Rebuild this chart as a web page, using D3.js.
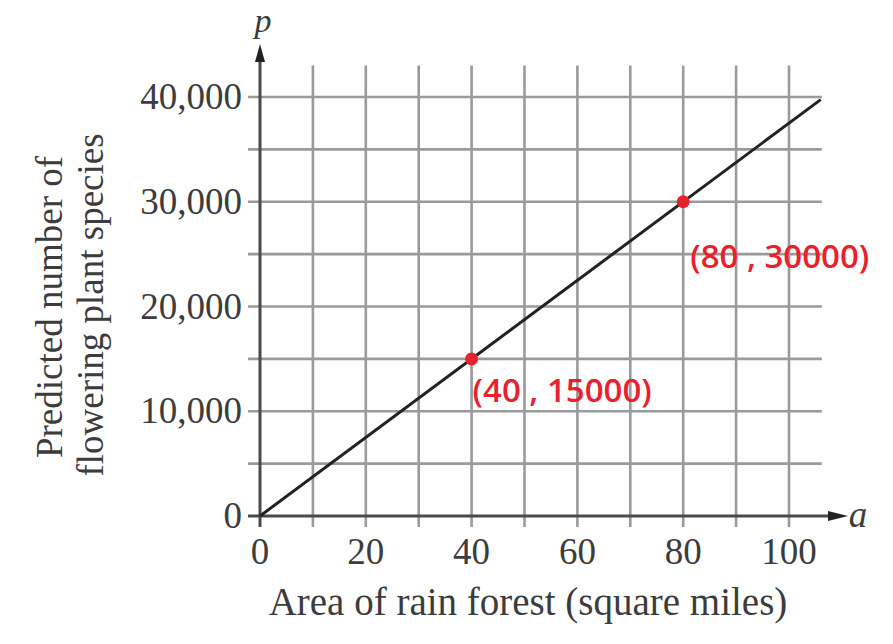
<!DOCTYPE html>
<html><head><meta charset="utf-8">
<script src="https://cdn.jsdelivr.net/npm/d3@7/dist/d3.min.js"></script>
<style>body{margin:0;background:#fff}svg{display:block}</style>
</head><body>
<script>
const xTicks = [0, 20, 40, 60, 80, 100];
const xGrid = [10, 20, 30, 40, 50, 60, 70, 80, 90, 100];
const yTicks = [0, 10000, 20000, 30000, 40000];
const yGrid = [5000, 10000, 15000, 20000, 25000, 30000, 35000, 40000];
const lineA = [0, 106];
const slope = 375; // p = 375a
const points = [[40, 15000], [80, 30000]];
const pointLabels = ["(40 , 15000)", "(80 , 30000)"];

const W = 893, H = 644;
const svg = d3.select("body").append("svg").attr("width", W).attr("height", H);
const x = d3.scaleLinear().domain([0, 100]).range([260, 789]);
const y = d3.scaleLinear().domain([0, 40000]).range([516, 97]);
const xMax = 106.2, yTop = 43000;
const txt = "#3c3c3c";

const grid = svg.append("g").attr("stroke", "#9a9a9a").attr("stroke-width", 2.6);
grid.selectAll("line.v").data(xGrid).join("line")
  .attr("x1", d => x(d)).attr("x2", d => x(d))
  .attr("y1", y(yTop)).attr("y2", y(0) + 11);
grid.selectAll("line.h").data(yGrid).join("line")
  .attr("y1", d => y(d)).attr("y2", d => y(d))
  .attr("x1", x(0) - 12).attr("x2", x(xMax));

// axes
const ax = svg.append("g").attr("stroke", "#4a4a4a").attr("stroke-width", 3);
ax.append("line").attr("x1", x(0) - 12).attr("x2", x(0) + 572).attr("y1", y(0)).attr("y2", y(0));
ax.append("line").attr("x1", x(0)).attr("x2", x(0)).attr("y1", y(0) + 11).attr("y2", 58);
svg.append("path").attr("d", `M${x(0)},44 L${x(0)-5},62 L${x(0)+5},62 Z`).attr("fill", "#222");
svg.append("path").attr("d", `M${x(0)+588},${y(0)} L${x(0)+568},${y(0)-5} L${x(0)+568},${y(0)+5} Z`).attr("fill", "#222");

svg.append("text").attr("x", 263).attr("y", 32).attr("font-family", "Liberation Serif").attr("font-style", "italic")
  .attr("font-size", 34).attr("fill", txt).attr("text-anchor", "middle").text("p");
svg.append("text").attr("x", 858).attr("y", 527).attr("font-family", "Liberation Serif").attr("font-style", "italic")
  .attr("font-size", 37).attr("fill", txt).attr("text-anchor", "middle").text("a");

// tick labels
const fmt = d3.format(",");
svg.append("g").selectAll("text").data(yTicks).join("text")
  .attr("x", 242).attr("y", d => y(d) + 12).attr("text-anchor", "end")
  .attr("font-family", "Liberation Serif").attr("font-size", 37).attr("fill", txt)
  .text(d => fmt(d));
svg.append("g").selectAll("text").data(xTicks).join("text")
  .attr("x", d => x(d)).attr("y", 564).attr("text-anchor", "middle")
  .attr("font-family", "Liberation Serif").attr("font-size", 37).attr("fill", txt)
  .text(d => d);

// titles
svg.append("text").attr("x", 528).attr("y", 615).attr("text-anchor", "middle")
  .attr("font-family", "Liberation Serif").attr("font-size", 39).attr("fill", txt)
  .text("Area of rain forest (square miles)");
const yt = svg.append("text").attr("transform", "rotate(-90)")
  .attr("text-anchor", "middle").attr("font-family", "Liberation Serif").attr("font-size", 37).attr("fill", txt);
yt.append("tspan").attr("x", -307).attr("y", 62).text("Predicted number of");
yt.append("tspan").attr("x", -305).attr("y", 103).text("flowering plant species");

// line
const line = d3.line().x(d => x(d)).y(d => y(slope * d));
svg.append("path").datum(lineA).attr("d", line).attr("fill", "none")
  .attr("stroke", "#222").attr("stroke-width", 3);

// points
svg.append("g").selectAll("circle").data(points).join("circle")
  .attr("cx", d => x(d[0])).attr("cy", d => y(d[1])).attr("r", 6.5).attr("fill", "#e8212c");
const labelDx = [1, 7], labelDy = [43, 66];
svg.append("g").selectAll("text").data(points).join("text")
  .attr("x", (d, i) => x(d[0]) + labelDx[i]).attr("y", (d, i) => y(d[1]) + labelDy[i])
  .attr("font-family", "Open Sans, Liberation Sans").attr("font-size", 33).attr("font-weight", 600)
  .attr("fill", "#e8212c").text((d, i) => pointLabels[i]);
</script>
</body></html>
